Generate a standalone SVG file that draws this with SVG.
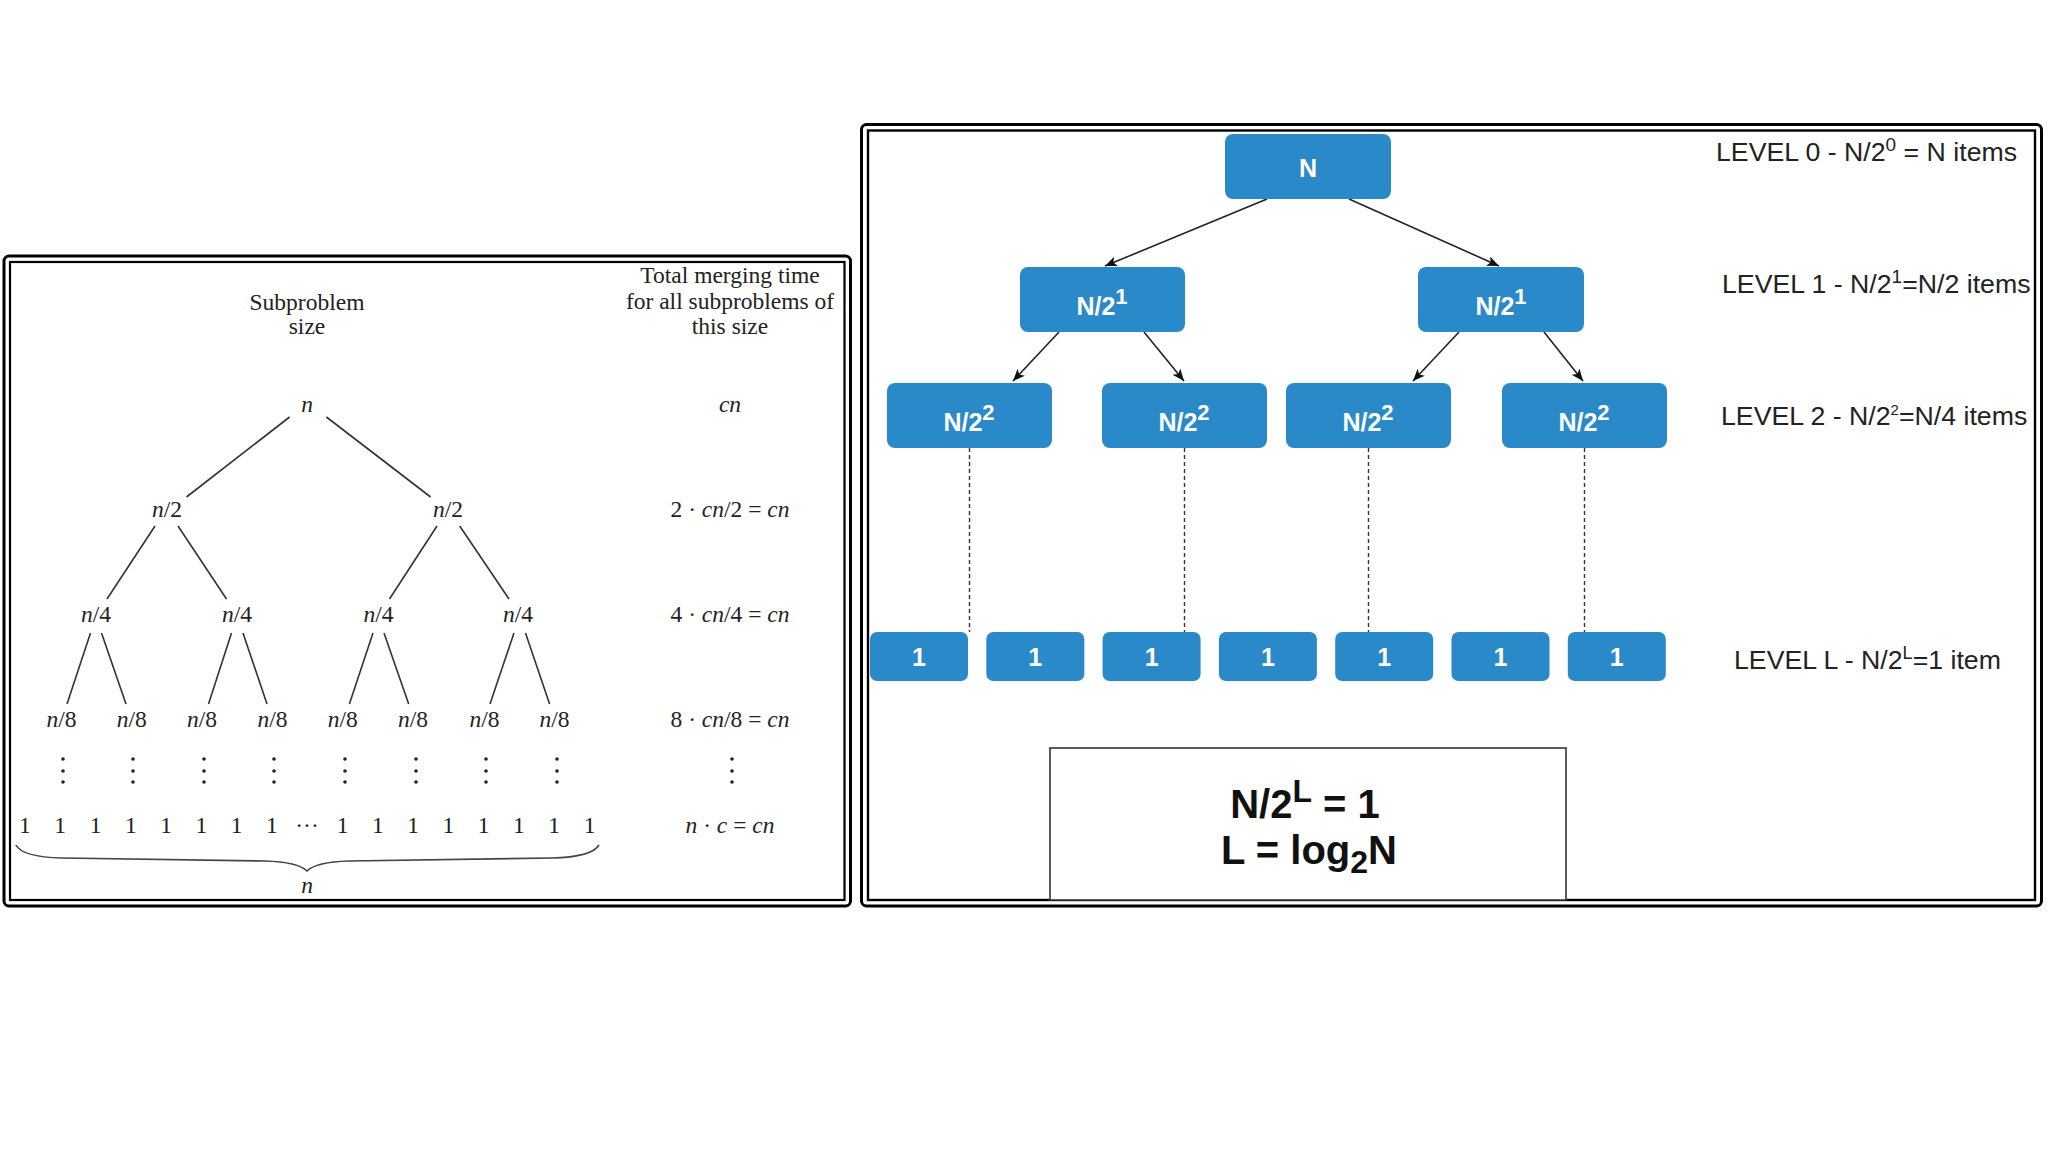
<svg xmlns="http://www.w3.org/2000/svg" width="2048" height="1152" viewBox="0 0 2048 1152">
<defs>
<style>
.serif{font-family:"Liberation Serif","Times New Roman",serif;font-size:23.5px;fill:#222;text-anchor:middle}
.it{font-style:italic}
.tl{stroke:#333;stroke-width:1.6;fill:none}
.box{fill:#2a8ac9}
.bt{font-family:"Liberation Sans",Arial,sans-serif;font-weight:bold;font-size:25px;fill:#fff;text-anchor:middle}
.lvl{font-family:"Liberation Sans",Arial,sans-serif;font-size:26.7px;fill:#222}
.con{stroke:#222;stroke-width:1.6;fill:none;marker-end:url(#ah)}
.dash{stroke:#333;stroke-width:1.4;fill:none;stroke-dasharray:4 3}
.frm{font-family:"Liberation Sans",Arial,sans-serif;font-weight:bold;font-size:40px;fill:#111;text-anchor:middle}
.dot{fill:#222}
</style>
<marker id="ah" markerUnits="userSpaceOnUse" markerWidth="14" markerHeight="12" refX="12" refY="5" orient="auto">
<path d="M0,0 L12,5 L0,10 L3,5 z" fill="#111"/>
</marker>
</defs>
<rect width="2048" height="1152" fill="#fff"/>

<!-- Left panel frame -->
<g id="left-frame" fill="none" stroke="#000">
<rect x="4" y="256" width="846.5" height="650" rx="5" stroke-width="3"/>
<rect x="10" y="262" width="834.5" height="638" stroke-width="2.2"/>
</g>

<!-- Left panel: headings -->
<g id="left-headings">
<text class="serif" x="307" y="310">Subproblem</text>
<text class="serif" x="307" y="334">size</text>
<text class="serif" x="730" y="283">Total merging time</text>
<text class="serif" x="730" y="309">for all subproblems of</text>
<text class="serif" x="730" y="334">this size</text>
</g>

<!-- Left panel: tree edges -->
<g id="left-edges" class="tl">
<line x1="289.6" y1="417" x2="186.5" y2="497"/>
<line x1="326.4" y1="417" x2="430.6" y2="497"/>
<line x1="155" y1="526" x2="107" y2="599"/>
<line x1="178" y1="526" x2="226.5" y2="599"/>
<line x1="437" y1="526" x2="389.5" y2="599"/>
<line x1="459.7" y1="526" x2="509" y2="599"/>
<line x1="90.5" y1="633" x2="67" y2="704"/>
<line x1="101.5" y1="633" x2="126" y2="704"/>
<line x1="231.5" y1="633" x2="208.5" y2="704"/>
<line x1="243" y1="633" x2="267" y2="704"/>
<line x1="373" y1="633" x2="349.4" y2="704"/>
<line x1="384" y1="633" x2="408.7" y2="704"/>
<line x1="514" y1="633" x2="490" y2="704"/>
<line x1="525.5" y1="633" x2="549.6" y2="704"/>
<path d="M16,845 Q22,857 62,858 L265,861 Q298,862 307,871 Q316,862 349,861 L552,858 Q592,857 599,845" stroke="#444"/>
</g>

<!-- Left panel: tree labels -->
<g id="left-nodes">
<text class="serif it" x="307" y="412">n</text>
<text class="serif" x="167" y="517"><tspan class="it">n</tspan>/2</text>
<text class="serif" x="448" y="517"><tspan class="it">n</tspan>/2</text>
<text class="serif" x="96" y="622"><tspan class="it">n</tspan>/4</text>
<text class="serif" x="237" y="622"><tspan class="it">n</tspan>/4</text>
<text class="serif" x="378.5" y="622"><tspan class="it">n</tspan>/4</text>
<text class="serif" x="518" y="622"><tspan class="it">n</tspan>/4</text>
<text class="serif" x="61.4" y="727"><tspan class="it">n</tspan>/8</text>
<text class="serif" x="131.7" y="727"><tspan class="it">n</tspan>/8</text>
<text class="serif" x="201.9" y="727"><tspan class="it">n</tspan>/8</text>
<text class="serif" x="272.6" y="727"><tspan class="it">n</tspan>/8</text>
<text class="serif" x="342.8" y="727"><tspan class="it">n</tspan>/8</text>
<text class="serif" x="413" y="727"><tspan class="it">n</tspan>/8</text>
<text class="serif" x="484.4" y="727"><tspan class="it">n</tspan>/8</text>
<text class="serif" x="554.6" y="727"><tspan class="it">n</tspan>/8</text>
<g class="dot">
<circle cx="63" cy="759" r="1.8"/><circle cx="63" cy="771" r="1.8"/><circle cx="63" cy="782" r="1.8"/>
<circle cx="133" cy="759" r="1.8"/><circle cx="133" cy="771" r="1.8"/><circle cx="133" cy="782" r="1.8"/>
<circle cx="204" cy="759" r="1.8"/><circle cx="204" cy="771" r="1.8"/><circle cx="204" cy="782" r="1.8"/>
<circle cx="274" cy="759" r="1.8"/><circle cx="274" cy="771" r="1.8"/><circle cx="274" cy="782" r="1.8"/>
<circle cx="345" cy="759" r="1.8"/><circle cx="345" cy="771" r="1.8"/><circle cx="345" cy="782" r="1.8"/>
<circle cx="416" cy="759" r="1.8"/><circle cx="416" cy="771" r="1.8"/><circle cx="416" cy="782" r="1.8"/>
<circle cx="486" cy="759" r="1.8"/><circle cx="486" cy="771" r="1.8"/><circle cx="486" cy="782" r="1.8"/>
<circle cx="557" cy="759" r="1.8"/><circle cx="557" cy="771" r="1.8"/><circle cx="557" cy="782" r="1.8"/>
<circle cx="732" cy="759" r="1.8"/><circle cx="732" cy="771" r="1.8"/><circle cx="732" cy="782" r="1.8"/>
</g>
<text class="serif" x="24.8" y="833">1</text>
<text class="serif" x="60" y="833">1</text>
<text class="serif" x="95.5" y="833">1</text>
<text class="serif" x="130.8" y="833">1</text>
<text class="serif" x="166" y="833">1</text>
<text class="serif" x="201.3" y="833">1</text>
<text class="serif" x="236.6" y="833">1</text>
<text class="serif" x="271.8" y="833">1</text>
<text class="serif" x="307" y="833">···</text>
<text class="serif" x="342.5" y="833">1</text>
<text class="serif" x="377.8" y="833">1</text>
<text class="serif" x="413" y="833">1</text>
<text class="serif" x="448.3" y="833">1</text>
<text class="serif" x="483.6" y="833">1</text>
<text class="serif" x="518.8" y="833">1</text>
<text class="serif" x="554" y="833">1</text>
<text class="serif" x="589.5" y="833">1</text>
<text class="serif it" x="307" y="893">n</text>
</g>

<!-- Left panel: per-level totals -->
<g id="left-totals">
<text class="serif it" x="730" y="412">cn</text>
<text class="serif" x="730" y="517">2 · <tspan class="it">cn</tspan>/2 = <tspan class="it">cn</tspan></text>
<text class="serif" x="730" y="622">4 · <tspan class="it">cn</tspan>/4 = <tspan class="it">cn</tspan></text>
<text class="serif" x="730" y="727">8 · <tspan class="it">cn</tspan>/8 = <tspan class="it">cn</tspan></text>
<text class="serif" x="730" y="833"><tspan class="it">n</tspan> · <tspan class="it">c</tspan> = <tspan class="it">cn</tspan></text>
</g>

<!-- Right panel frame -->
<g id="right-frame" fill="none" stroke="#000">
<rect x="861.5" y="124.5" width="1180" height="781.5" rx="5" stroke-width="3"/>
<rect x="868" y="130.5" width="1167" height="769.5" stroke-width="2.4"/>
</g>

<!-- Right panel connectors -->
<g id="connectors">
<line class="con" x1="1267" y1="199" x2="1105" y2="266"/>
<line class="con" x1="1349" y1="199" x2="1499" y2="266"/>
<line class="con" x1="1059" y1="332" x2="1013" y2="381"/>
<line class="con" x1="1144" y1="332" x2="1184" y2="381"/>
<line class="con" x1="1459" y1="332" x2="1413" y2="381"/>
<line class="con" x1="1544" y1="332" x2="1583" y2="381"/>
<line class="dash" x1="969.5" y1="448" x2="969.5" y2="632"/>
<line class="dash" x1="1184.5" y1="448" x2="1184.5" y2="632"/>
<line class="dash" x1="1368.5" y1="448" x2="1368.5" y2="632"/>
<line class="dash" x1="1584.5" y1="448" x2="1584.5" y2="632"/>
</g>

<!-- Right panel nodes -->
<g id="node-N"><rect class="box" x="1225" y="134" width="166" height="65" rx="8"/><text class="bt" x="1308" y="177">N</text></g>
<g id="node-L1a"><rect class="box" x="1020" y="267" width="165" height="65" rx="8"/><text class="bt" x="1102" y="315">N/2<tspan font-size="22" dy="-11">1</tspan></text></g>
<g id="node-L1b"><rect class="box" x="1418" y="267" width="166" height="65" rx="8"/><text class="bt" x="1501" y="315">N/2<tspan font-size="22" dy="-11">1</tspan></text></g>
<g id="node-L2a"><rect class="box" x="887" y="383" width="165" height="65" rx="8"/><text class="bt" x="969" y="431">N/2<tspan font-size="22" dy="-11">2</tspan></text></g>
<g id="node-L2b"><rect class="box" x="1102" y="383" width="165" height="65" rx="8"/><text class="bt" x="1184" y="431">N/2<tspan font-size="22" dy="-11">2</tspan></text></g>
<g id="node-L2c"><rect class="box" x="1286" y="383" width="165" height="65" rx="8"/><text class="bt" x="1368" y="431">N/2<tspan font-size="22" dy="-11">2</tspan></text></g>
<g id="node-L2d"><rect class="box" x="1502" y="383" width="165" height="65" rx="8"/><text class="bt" x="1584" y="431">N/2<tspan font-size="22" dy="-11">2</tspan></text></g>
<g id="leaf-1"><rect class="box" x="870" y="632" width="98" height="49" rx="7"/><text class="bt" x="919" y="666">1</text></g>
<g id="leaf-2"><rect class="box" x="986.3" y="632" width="98" height="49" rx="7"/><text class="bt" x="1035.3" y="666">1</text></g>
<g id="leaf-3"><rect class="box" x="1102.6" y="632" width="98" height="49" rx="7"/><text class="bt" x="1151.6" y="666">1</text></g>
<g id="leaf-4"><rect class="box" x="1218.9" y="632" width="98" height="49" rx="7"/><text class="bt" x="1267.9" y="666">1</text></g>
<g id="leaf-5"><rect class="box" x="1335.2" y="632" width="98" height="49" rx="7"/><text class="bt" x="1384.2" y="666">1</text></g>
<g id="leaf-6"><rect class="box" x="1451.5" y="632" width="98" height="49" rx="7"/><text class="bt" x="1500.5" y="666">1</text></g>
<g id="leaf-7"><rect class="box" x="1567.8" y="632" width="98" height="49" rx="7"/><text class="bt" x="1616.8" y="666">1</text></g>

<!-- Level labels -->
<g id="level-labels">
<text class="lvl" x="1716" y="161">LEVEL 0 - N/2<tspan font-size="19" dy="-10">0</tspan><tspan dy="10"> = N items</tspan></text>
<text class="lvl" x="1722" y="293">LEVEL 1 - N/2<tspan font-size="19" dy="-10">1</tspan><tspan dy="10">=N/2 items</tspan></text>
<text class="lvl" x="1721" y="425">LEVEL 2 - N/2<tspan font-size="15" dy="-10">2</tspan><tspan dy="10">=N/4 items</tspan></text>
<text class="lvl" x="1734" y="669">LEVEL L - N/2<tspan font-size="18" dy="-10">L</tspan><tspan dy="10">=1 item</tspan></text>
</g>

<!-- Formula box -->
<g id="formula">
<rect x="1050" y="748" width="516" height="152" fill="#fff" stroke="#333" stroke-width="1.6"/>
<text class="frm" x="1305" y="818">N/2<tspan font-size="32" dy="-16">L</tspan><tspan dy="16"> = 1</tspan></text>
<text class="frm" x="1309" y="864">L = log<tspan font-size="32" dy="9">2</tspan><tspan dy="-9">N</tspan></text>
</g>
</svg>
